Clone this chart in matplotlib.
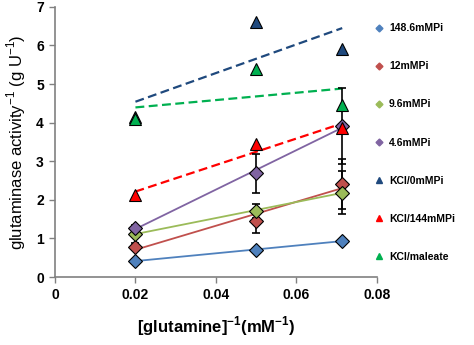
import matplotlib
matplotlib.use("Agg")
import matplotlib.pyplot as plt
import numpy as np

plt.rcParams["font.family"] = ["Liberation Sans", "DejaVu Sans"]
plt.rcParams["mathtext.fontset"] = "custom"
plt.rcParams["mathtext.rm"] = "Liberation Sans"
plt.rcParams["mathtext.bf"] = "Liberation Sans:bold"

# inverse glutamine concentration (1/50, 1/20, 1/14 mM)
inv_gln = [0.02, 0.05, 0.0714]

# Pi series (diamonds, solid trendlines)
pi_labels = ["148.6mMPi", "12mMPi", "9.6mMPi", "4.6mMPi"]
pi_colors = ["#4F81BD", "#C0504D", "#9BBB59", "#8064A2"]
pi_148_6 = [0.42, 0.70, 0.94]
pi_12 = [0.79, 1.44, 2.42]
pi_9_6 = [1.12, 1.72, 2.19]
pi_4_6 = [1.28, 2.69, 3.92]
err_148_6 = [0.05, 0.03, 0.03]
err_12 = [0.10, 0.30, 0.65]
err_9_6 = [0.06, 0.18, 0.55]
err_4_6 = [0.08, 0.50, 0.98]

# KCl series (triangles, dashed trendlines)
kcl_labels = ["KCl/0mMPi", "KCl/144mMPi", "KCl/maleate"]
kcl_colors = ["#1F497D", "#FF0000", "#00B050"]
kcl_0 = [4.15, 6.60, 5.90]
kcl_144 = [2.13, 3.45, 3.86]
kcl_maleate = [4.10, 5.39, 4.47]

fig = plt.figure(figsize=(4.74, 3.45), dpi=100)
ax = fig.add_axes([0.116, 0.197, 0.679, 0.783])

x = np.array(inv_gln)
xfit = np.array([x.min(), x.max()])

pi_vals = [pi_148_6, pi_12, pi_9_6, pi_4_6]
pi_errs = [err_148_6, err_12, err_9_6, err_4_6]
for vals, errs, col in zip(pi_vals, pi_errs, pi_colors):
    k, b = np.polyfit(x, vals, 1)
    ax.plot(xfit, k * xfit + b, color=col, lw=1.3, zorder=2)
    ax.errorbar(x, vals, yerr=errs, fmt="none", ecolor="black",
                elinewidth=1.2, capsize=3, capthick=1.2, zorder=3)

kcl_vals = [kcl_0, kcl_144, kcl_maleate]
for vals, col in zip(kcl_vals, kcl_colors):
    k, b = np.polyfit(x, vals, 1)
    ax.plot(xfit, k * xfit + b, color=col, lw=1.6, ls=(0, (4, 2)), zorder=2)

handles = []
for vals, col, lab in zip(pi_vals, pi_colors, pi_labels):
    ax.plot(x, vals, "D", color=col, mec="black", mew=0.8, ms=7, zorder=4)
    handles.append(plt.Line2D([], [], ls="none", marker="D", color=col,
                              mec=col, ms=3.5, label=lab))
for vals, col, lab in zip(kcl_vals, kcl_colors, kcl_labels):
    ax.plot(x, vals, "^", color=col, mec="black", mew=0.8, ms=8, zorder=4)
    handles.append(plt.Line2D([], [], ls="none", marker="^", color=col,
                              mec=col, ms=4.5, label=lab))

ax.set_xlim(0, 0.08)
ax.set_ylim(0, 7)
ax.set_xticks([0, 0.02, 0.04, 0.06, 0.08])
ax.set_xticklabels(["0", "0.02", "0.04", "0.06", "0.08"])
ax.set_yticks(range(8))
for lbl in ax.get_xticklabels() + ax.get_yticklabels():
    lbl.set_fontweight("bold")
    lbl.set_fontsize(10)
ax.tick_params(direction="out", length=4, color="#808080", width=1, pad=4)
for side in ("top", "right"):
    ax.spines[side].set_visible(False)
for side in ("left", "bottom"):
    ax.spines[side].set_color("#808080")
    ax.spines[side].set_linewidth(1.2)

ax.set_xlabel(r"[glutamine]$^{\mathbf{-1}}$(mM$^{\mathbf{-1}}$)", fontsize=12,
              fontweight="bold", labelpad=9)
ax.set_ylabel("glutaminase activity$^{-1}$ (g U$^{-1}$)", fontsize=12, labelpad=6)

leg = fig.legend(handles=handles, loc="upper left", bbox_to_anchor=(0.77, 0.96),
                 frameon=False, handlelength=0.8, handletextpad=0.6,
                 labelspacing=2.7, prop={"weight": "bold", "size": 7.5})

fig.savefig("out.png", dpi=100)
